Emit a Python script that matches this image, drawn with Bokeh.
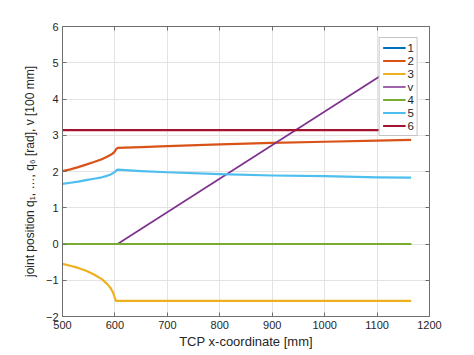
from bokeh.plotting import figure
from bokeh.models import Range1d, LinearAxis, FixedTicker, Legend, LegendItem
from bokeh.embed import file_html
from bokeh.resources import INLINE

# ---- data ----
x_mm = [500, 515, 530, 545, 560, 575, 585, 592, 597, 600, 602, 605,
        650, 700, 800, 900, 1000, 1100, 1165]
q1 = [0] * len(x_mm)
q2 = [2.01, 2.06, 2.12, 2.19, 2.26, 2.34, 2.41, 2.46, 2.51, 2.56, 2.61, 2.65,
      2.67, 2.70, 2.75, 2.79, 2.82, 2.85, 2.87]
q3 = [-0.55, -0.60, -0.66, -0.74, -0.84, -0.97, -1.10, -1.22, -1.36, -1.49, -1.57, -1.57,
      -1.57, -1.57, -1.57, -1.57, -1.57, -1.57, -1.57]
q4 = [0] * len(x_mm)
q5 = [1.66, 1.69, 1.72, 1.76, 1.80, 1.84, 1.88, 1.92, 1.96, 1.99, 2.02, 2.05,
      2.01, 1.98, 1.93, 1.89, 1.87, 1.84, 1.83]
q6 = [3.14] * len(x_mm)
v_x = [605, 1165]
v_vals = [0.0, 5.18]

x_ticks = [500, 600, 700, 800, 900, 1000, 1100, 1200]
y_ticks = [-2, -1, 0, 1, 2, 3, 4, 5, 6]

series = [
    ("1", x_mm, q1, "#0072BD", 2.2),
    ("2", x_mm, q2, "#D95319", 2.2),
    ("3", x_mm, q3, "#EDB120", 2.2),
    ("v", v_x, v_vals, "#7E2F8E", 1.6),
    ("4", x_mm, q4, "#77AC30", 2.2),
    ("5", x_mm, q5, "#4DBEEE", 2.2),
    ("6", x_mm, q6, "#A2142F", 2.2),
]

FONT = "Liberation Sans"
TXT = "#262626"
AX = "#6e6e6e"

p = figure(frame_width=367, frame_height=290, output_backend="svg", toolbar_location=None,
           x_range=Range1d(500, 1200), y_range=Range1d(-2, 6),
           min_border_left=62, min_border_right=30, min_border_top=26, min_border_bottom=34,
           background_fill_color="white", border_fill_color="white")
p.outline_line_color = None

items = []
for name, xs, ys, col, w in series:
    r = p.line(xs, ys, line_color=col, line_width=w, line_join="round")
    items.append(LegendItem(label=name, renderers=[r]))

for ax in (p.xaxis[0], p.yaxis[0]):
    ax.major_tick_in = 4
    ax.major_tick_out = 0
    ax.minor_tick_in = 0
    ax.minor_tick_out = 0
    ax.axis_line_color = AX
    ax.major_tick_line_color = AX
    ax.major_label_text_font = FONT
    ax.major_label_text_font_size = "11px"
    ax.major_label_text_color = TXT
    ax.axis_label_text_font = FONT
    ax.axis_label_text_font_size = "13px"
    ax.axis_label_text_font_style = "normal"
    ax.axis_label_text_color = TXT
    ax.major_label_standoff = 4
    ax.axis_label_standoff = 2

p.xaxis[0].ticker = FixedTicker(ticks=x_ticks)
p.yaxis[0].ticker = FixedTicker(ticks=y_ticks)
p.yaxis[0].axis_label_text_font_size = "12px"
p.yaxis[0].axis_label_standoff = 6
p.xaxis[0].axis_label = "TCP x-coordinate [mm]"
p.yaxis[0].axis_label = "joint position q\u2081, \u2026, q\u2086 [rad], v [100 mm]"

# box axes (top & right) with inward ticks, no labels
top = LinearAxis(ticker=FixedTicker(ticks=x_ticks),
                 major_label_overrides={t: "" for t in x_ticks},
                 major_tick_in=4, major_tick_out=0, minor_tick_in=0, minor_tick_out=0,
                 axis_line_color=AX, major_tick_line_color=AX, major_label_standoff=0)
right = LinearAxis(ticker=FixedTicker(ticks=y_ticks),
                   major_label_overrides={t: "" for t in y_ticks},
                   major_tick_in=4, major_tick_out=0, minor_tick_in=0, minor_tick_out=0,
                   axis_line_color=AX, major_tick_line_color=AX, major_label_standoff=0)
p.add_layout(top, "above")
p.add_layout(right, "right")

p.xgrid.ticker = FixedTicker(ticks=x_ticks)
p.ygrid.ticker = FixedTicker(ticks=y_ticks)
p.xgrid.grid_line_color = "#e3e3e3"
p.ygrid.grid_line_color = "#e3e3e3"

legend = Legend(items=items, location="top_right", margin=11,
                glyph_width=23, glyph_height=13, label_standoff=2,
                padding=3, spacing=0, label_height=13, label_width=6,
                label_text_font=FONT, label_text_font_size="11.5px", label_text_color=TXT,
                label_text_line_height=1.0,
                border_line_color="#8a8a8a", border_line_width=1,
                background_fill_color="white", background_fill_alpha=1.0)
p.add_layout(legend, "center")

open("out.html", "w").write(file_html(p, INLINE))
